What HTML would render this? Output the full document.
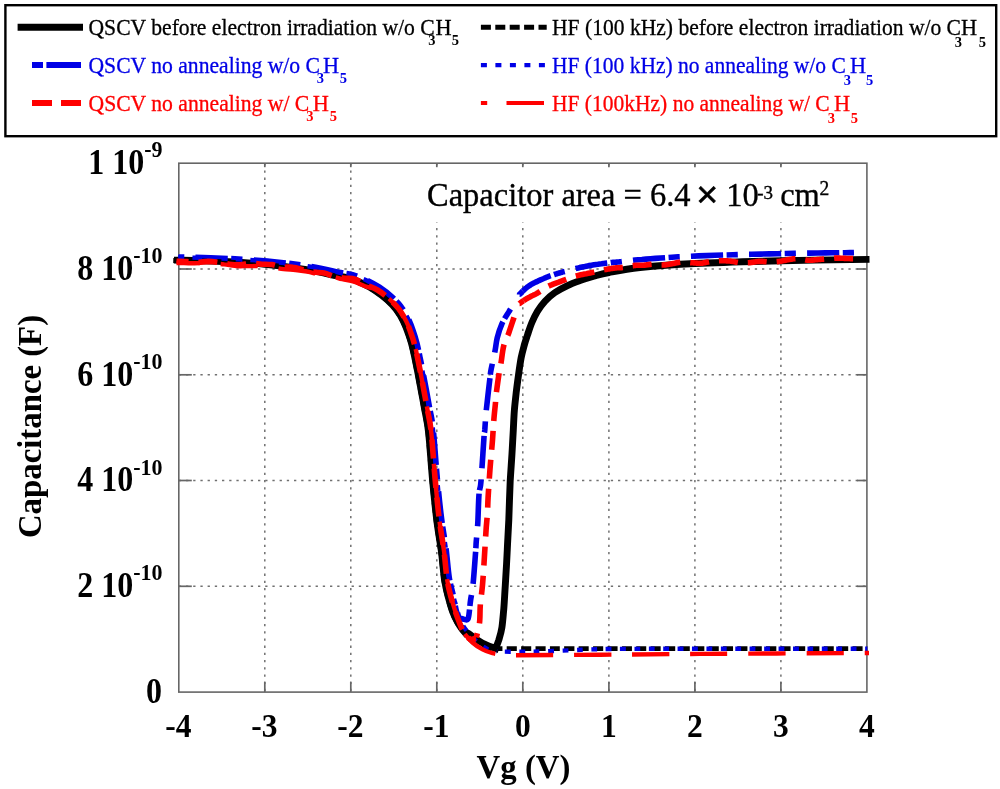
<!DOCTYPE html>
<html><head><meta charset="utf-8"><title>C-V curves</title>
<style>html,body{margin:0;padding:0;background:#fff}svg{display:block}</style></head>
<body>
<svg width="1000" height="789" viewBox="0 0 1000 789">
<line x1="264.8" y1="163.2" x2="264.8" y2="692.1" stroke="#707070" stroke-width="1.5" stroke-dasharray="2.3 4.9"/>
<line x1="350.8" y1="163.2" x2="350.8" y2="692.1" stroke="#707070" stroke-width="1.5" stroke-dasharray="2.3 4.9"/>
<line x1="436.8" y1="163.2" x2="436.8" y2="692.1" stroke="#707070" stroke-width="1.5" stroke-dasharray="2.3 4.9"/>
<line x1="522.8" y1="163.2" x2="522.8" y2="692.1" stroke="#707070" stroke-width="1.5" stroke-dasharray="2.3 4.9"/>
<line x1="608.9" y1="163.2" x2="608.9" y2="692.1" stroke="#707070" stroke-width="1.5" stroke-dasharray="2.3 4.9"/>
<line x1="694.9" y1="163.2" x2="694.9" y2="692.1" stroke="#707070" stroke-width="1.5" stroke-dasharray="2.3 4.9"/>
<line x1="780.9" y1="163.2" x2="780.9" y2="692.1" stroke="#707070" stroke-width="1.5" stroke-dasharray="2.3 4.9"/>
<line x1="178.8" y1="586.3" x2="866.9" y2="586.3" stroke="#707070" stroke-width="1.5" stroke-dasharray="2.3 4.9"/>
<line x1="178.8" y1="480.5" x2="866.9" y2="480.5" stroke="#707070" stroke-width="1.5" stroke-dasharray="2.3 4.9"/>
<line x1="178.8" y1="374.8" x2="866.9" y2="374.8" stroke="#707070" stroke-width="1.5" stroke-dasharray="2.3 4.9"/>
<line x1="178.8" y1="269.0" x2="866.9" y2="269.0" stroke="#707070" stroke-width="1.5" stroke-dasharray="2.3 4.9"/>
<rect x="418" y="167.5" width="425" height="55" fill="#fff"/>
<line x1="264.8" y1="692.1" x2="264.8" y2="682.1" stroke="#666" stroke-width="1.7"/>
<line x1="264.8" y1="163.2" x2="264.8" y2="167.2" stroke="#666" stroke-width="1.7"/>
<line x1="350.8" y1="692.1" x2="350.8" y2="682.1" stroke="#666" stroke-width="1.7"/>
<line x1="350.8" y1="163.2" x2="350.8" y2="167.2" stroke="#666" stroke-width="1.7"/>
<line x1="436.8" y1="692.1" x2="436.8" y2="682.1" stroke="#666" stroke-width="1.7"/>
<line x1="436.8" y1="163.2" x2="436.8" y2="167.2" stroke="#666" stroke-width="1.7"/>
<line x1="522.8" y1="692.1" x2="522.8" y2="682.1" stroke="#666" stroke-width="1.7"/>
<line x1="522.8" y1="163.2" x2="522.8" y2="167.2" stroke="#666" stroke-width="1.7"/>
<line x1="608.9" y1="692.1" x2="608.9" y2="682.1" stroke="#666" stroke-width="1.7"/>
<line x1="608.9" y1="163.2" x2="608.9" y2="167.2" stroke="#666" stroke-width="1.7"/>
<line x1="694.9" y1="692.1" x2="694.9" y2="682.1" stroke="#666" stroke-width="1.7"/>
<line x1="694.9" y1="163.2" x2="694.9" y2="167.2" stroke="#666" stroke-width="1.7"/>
<line x1="780.9" y1="692.1" x2="780.9" y2="682.1" stroke="#666" stroke-width="1.7"/>
<line x1="780.9" y1="163.2" x2="780.9" y2="167.2" stroke="#666" stroke-width="1.7"/>
<line x1="178.8" y1="586.3" x2="191.8" y2="586.3" stroke="#666" stroke-width="1.7"/>
<line x1="866.9" y1="586.3" x2="856.9" y2="586.3" stroke="#666" stroke-width="1.7"/>
<line x1="178.8" y1="480.5" x2="191.8" y2="480.5" stroke="#666" stroke-width="1.7"/>
<line x1="866.9" y1="480.5" x2="856.9" y2="480.5" stroke="#666" stroke-width="1.7"/>
<line x1="178.8" y1="374.8" x2="191.8" y2="374.8" stroke="#666" stroke-width="1.7"/>
<line x1="866.9" y1="374.8" x2="856.9" y2="374.8" stroke="#666" stroke-width="1.7"/>
<line x1="178.8" y1="269.0" x2="191.8" y2="269.0" stroke="#666" stroke-width="1.7"/>
<line x1="866.9" y1="269.0" x2="856.9" y2="269.0" stroke="#666" stroke-width="1.7"/>
<rect x="178.8" y="163.2" width="688.1" height="528.9" fill="none" stroke="#666" stroke-width="1.6"/>
<g stroke-linecap="butt" stroke-linejoin="round">
<path d="M173.9 260.1C181.2 260.3 202.6 260.6 217.4 261.3C232.2 262.0 248.2 262.8 262.8 264.1C277.4 265.4 292.5 267.3 304.9 269.3C317.3 271.3 330.2 274.5 337.4 275.9C344.6 277.3 343.8 276.6 348.0 277.8C352.2 279.0 357.9 281.2 362.4 283.3C366.9 285.4 370.7 287.5 374.9 290.3C379.1 293.1 383.9 296.8 387.4 299.9C390.9 303.1 393.4 305.6 396.1 309.2C398.9 312.8 401.6 317.4 403.6 321.6C405.7 325.7 407.2 329.9 408.6 334.1C410.1 338.2 411.3 342.2 412.4 346.6C413.5 350.9 414.4 355.5 415.4 360.3C416.4 365.1 416.8 367.0 418.4 375.3C420.0 383.6 423.2 400.8 424.9 410.3C426.6 419.8 427.3 420.5 428.6 432.3C429.9 444.1 431.3 466.6 432.7 481.3C434.1 496.0 435.3 508.6 436.8 520.3C438.2 532.0 440.1 541.3 441.4 551.3C442.7 561.3 443.4 572.6 444.6 580.3C445.8 588.0 447.0 592.0 448.4 597.3C449.8 602.6 451.4 608.2 452.9 612.3C454.4 616.4 455.8 619.0 457.5 622.0C459.2 625.0 460.9 627.9 463.0 630.0C465.1 632.1 467.6 632.8 470.0 634.5C472.4 636.2 474.8 638.2 477.5 640.0C480.2 641.8 483.2 643.6 486.2 645.0C489.3 646.4 494.0 647.9 495.6 648.5 L495.6 648.5C496.1 647.1 497.7 643.5 498.8 640.0C499.8 636.5 501.1 632.7 501.9 627.5C502.7 622.3 503.2 615.0 503.8 608.8C504.3 602.5 504.6 596.5 505.0 590.0C505.4 583.5 505.8 577.5 506.2 570.0C506.7 562.5 507.1 553.3 507.5 545.0C507.9 536.7 508.3 530.6 508.8 520.0C509.2 509.4 509.7 492.1 510.2 481.2C510.8 470.4 511.4 463.5 511.9 455.0C512.4 446.5 512.9 437.5 513.3 430.0C513.7 422.5 513.9 416.2 514.4 410.0C514.9 403.8 515.6 398.3 516.2 392.5C516.9 386.7 517.7 380.8 518.5 375.0C519.3 369.2 520.2 362.7 521.2 357.5C522.3 352.3 523.6 347.8 524.6 344.0C525.6 340.2 526.3 338.6 527.5 335.0C528.7 331.4 530.2 326.5 531.9 322.5C533.6 318.5 535.3 314.8 537.5 311.2C539.7 307.7 542.1 304.4 545.0 301.2C547.9 298.1 551.2 295.1 555.0 292.5C558.8 289.9 563.3 287.6 567.5 285.6C571.7 283.6 575.6 282.2 580.0 280.6C584.4 279.0 588.9 277.6 593.8 276.2C598.6 274.9 601.3 274.0 609.0 272.5C616.7 271.0 625.7 269.0 640.0 267.5C654.3 266.0 671.3 264.6 695.0 263.5C718.7 262.4 752.9 261.5 782.0 260.8C811.1 260.1 854.9 259.6 869.5 259.4" fill="none" stroke="#000" stroke-width="6.9" stroke-linejoin="miter" stroke-miterlimit="6"/>
<path d="M178.5 257.0C185.8 257.2 207.2 257.5 222.0 258.2C236.8 258.9 252.8 259.7 267.4 261.0C282.0 262.3 297.1 264.2 309.5 266.2C321.9 268.2 334.8 271.4 342.0 272.8C349.2 274.2 348.4 273.5 352.6 274.7C356.8 275.9 362.5 278.1 367.0 280.2C371.5 282.3 375.3 284.4 379.5 287.2C383.7 290.0 388.5 293.7 392.0 296.8C395.5 299.9 398.0 302.5 400.8 306.1C403.5 309.7 406.2 314.3 408.2 318.4C410.3 322.6 411.8 326.8 413.2 330.9C414.7 335.1 415.9 339.1 417.0 343.4C418.1 347.8 419.0 352.4 420.0 357.2C421.0 362.0 421.4 363.9 423.0 372.2C424.6 380.5 427.8 397.7 429.5 407.2C431.2 416.7 431.9 417.4 433.2 429.2C434.5 441.0 435.9 463.5 437.3 478.2C438.7 492.9 439.9 505.5 441.4 517.2C442.8 528.9 444.7 538.2 446.0 548.2C447.3 558.2 448.0 569.5 449.2 577.2C450.4 584.9 451.8 588.5 453.0 594.2C454.2 599.9 455.5 607.5 456.5 611.5C457.5 615.5 458.6 616.9 459.0 618.0" fill="none" stroke="#0000e6" stroke-width="5.6" stroke-dasharray="32.2 3.5 11.2 11.2" stroke-dashoffset="41.0" />
<path d="M459.0 618.0C459.8 618.2 462.5 619.1 464.0 619.3C465.5 619.5 467.1 620.7 468.0 619.0C468.9 617.3 469.2 612.2 469.6 609.0C470.0 605.8 470.0 604.2 470.6 600.0C471.2 595.8 472.3 591.8 473.1 583.8C473.9 575.8 475.1 559.0 475.6 552.0C476.1 545.0 475.9 546.8 476.2 542.0C476.6 537.2 477.3 530.9 477.8 523.0C478.2 515.1 478.5 500.7 479.0 494.4C479.5 488.1 480.1 489.3 480.6 485.0C481.1 480.7 481.3 476.8 481.9 468.8C482.5 460.8 483.5 443.5 484.0 437.0C484.5 430.5 484.4 434.3 484.8 430.0C485.1 425.7 485.4 419.8 486.2 411.0C487.1 402.2 489.2 384.5 490.0 377.5C490.8 370.5 490.4 373.4 491.2 369.0C492.1 364.6 494.0 356.2 495.0 351.0C496.0 345.8 496.1 342.5 497.2 338.0C498.3 333.5 500.0 328.1 501.9 323.8C503.8 319.4 506.9 315.0 508.8 311.9C510.6 308.8 512.3 306.1 513.0 305.0" fill="none" stroke="#0000e6" stroke-width="5.6" stroke-dasharray="32.2 3.5 11.2 11.2" stroke-dashoffset="13.0" stroke-linejoin="miter"/>
<path d="M519.5 294.5L519.6 294.4L519.6 294.3L519.7 294.3L519.8 294.2L519.9 294.1L520.0 294.0L520.1 293.9L520.2 293.7L520.3 293.6L520.4 293.5L520.6 293.4L520.7 293.2L520.8 293.1L520.9 293.0L521.1 292.8L521.2 292.7L521.3 292.5L521.5 292.4L521.6 292.2L521.8 292.1L521.9 291.9L522.1 291.8L522.2 291.6L522.4 291.4L522.5 291.3L522.7 291.1L522.7 291.1" fill="none" stroke="#0000e6" stroke-width="5.6" />
<path d="M522.7 291.1L523.4 290.5L524.0 289.9L524.7 289.3L525.3 288.7L525.9 288.2L526.6 287.7L527.2 287.2L527.8 286.7L528.5 286.2L529.2 285.7L530.1 285.2L530.9 284.6L532.0 284.0L533.1 283.4L534.4 282.8L535.8 282.1L537.3 281.4L538.9 280.6L540.5 279.9L542.1 279.2L543.8 278.5L545.3 277.8L546.8 277.2L548.2 276.6L549.5 276.1L550.7 275.7L551.9 275.3L553.1 274.9L554.3 274.5L555.5 274.1L556.7 273.8L558.0 273.4L559.3 273.0L560.7 272.6L562.2 272.2L563.8 271.7L565.4 271.3L567.1 270.8L568.7 270.4L570.4 269.9L572.1 269.5L573.7 269.1L575.2 268.7L576.7 268.3L578.2 268.0L579.6 267.6L580.9 267.3L582.2 267.0L583.6 266.7L584.9 266.5L586.3 266.2L587.7 265.9L589.2 265.6L590.8 265.4L592.5 265.1L594.2 264.8L596.1 264.5L597.9 264.3L599.8 264.0L601.6 263.8L603.4 263.5L605.1 263.3L606.7 263.1L608.2 262.9L609.6 262.8L610.8 262.6L611.9 262.5L613.0 262.4L614.1 262.3L615.3 262.2L616.5 262.1L617.8 262.0L619.2 261.9L620.8 261.7L622.3 261.5L623.7 261.4L625.1 261.2L626.5 261.0L628.2 260.7L630.1 260.5L632.4 260.3L635.0 260.0L638.2 259.7L641.9 259.5L646.0 259.1L650.5 258.8L655.4 258.4L660.6 258.0L666.1 257.6L672.0 257.2L678.2 256.8L684.7 256.5L691.5 256.2L698.6 255.9L706.5 255.6L714.9 255.3L723.8 255.0L732.9 254.8L742.2 254.5L751.5 254.3L760.7 254.1L769.6 253.9L778.0 253.7L786.0 253.5L794.0 253.4L802.1 253.2L810.1 253.1L817.9 253.0L825.5 252.9L832.5 252.8L839.0 252.8L844.9 252.7L849.9 252.6L853.9 252.6L857.0 252.5L859.2 252.5L860.7 252.5L861.6 252.5L862.1 252.5L862.3 252.5L862.4 252.5L862.5 252.5L862.8 252.5L863.0 252.5" fill="none" stroke="#0000e6" stroke-width="5.6" stroke-dasharray="32.2 3.5 11.2 11.2" stroke-dashoffset="0.0" />
<path d="M173.3 260.4C180.6 260.6 202.0 260.9 216.8 261.6C231.6 262.3 247.6 263.1 262.2 264.4C276.8 265.7 291.9 267.6 304.3 269.6C316.7 271.6 329.6 274.8 336.8 276.2C344.0 277.6 343.2 276.9 347.4 278.1C351.6 279.3 357.3 281.5 361.8 283.6C366.3 285.7 370.1 287.8 374.3 290.6C378.5 293.4 383.3 297.1 386.8 300.2C390.3 303.4 392.8 305.9 395.6 309.5C398.3 313.1 401.0 317.7 403.1 321.9C405.1 326.0 406.6 330.2 408.1 334.4C409.5 338.5 410.7 342.5 411.8 346.9C412.9 351.2 413.8 355.8 414.8 360.6C415.8 365.4 416.2 367.3 417.8 375.6C419.4 383.9 422.6 401.1 424.3 410.6C426.0 420.1 426.7 420.8 428.0 432.6C429.3 444.4 430.7 466.9 432.1 481.6C433.5 496.3 434.8 508.9 436.2 520.6C437.6 532.3 439.5 541.6 440.8 551.6C442.1 561.6 442.8 572.9 444.0 580.6C445.2 588.3 446.4 592.3 447.8 597.6C449.2 602.9 450.8 608.5 452.3 612.6C453.8 616.8 455.3 619.4 457.0 622.5C458.7 625.6 460.3 628.2 462.5 631.0C464.7 633.8 467.2 637.0 470.0 639.5C472.8 642.0 476.2 644.5 479.0 646.0C481.8 647.5 484.0 648.1 487.0 648.6C490.0 649.1 495.3 648.7 497.0 648.7" fill="none" stroke="#000" stroke-width="5" stroke-dasharray="10.1 4.3" />
<path d="M497.0 648.7C558.7 648.7 805.6 648.7 867.3 648.7" fill="none" stroke="#000" stroke-width="4.8" stroke-dasharray="10.1 4.3" stroke-dashoffset="4.6" />
<path d="M178.3 257.3C185.6 257.5 207.0 257.8 221.8 258.5C236.6 259.2 252.6 260.0 267.2 261.3C281.8 262.6 296.9 264.5 309.3 266.5C321.7 268.5 334.6 271.7 341.8 273.1C349.0 274.5 348.2 273.8 352.4 275.0C356.6 276.2 362.3 278.4 366.8 280.5C371.3 282.6 375.1 284.7 379.3 287.5C383.5 290.3 388.3 294.0 391.8 297.1C395.3 300.2 397.8 302.8 400.6 306.4C403.3 310.0 406.0 314.6 408.1 318.8C410.1 322.9 411.6 327.1 413.1 331.2C414.5 335.4 415.7 339.4 416.8 343.8C417.9 348.1 418.8 352.7 419.8 357.5C420.8 362.3 421.2 364.2 422.8 372.5C424.4 380.8 427.6 398.0 429.3 407.5C431.0 417.0 431.7 417.7 433.0 429.5C434.3 441.3 435.7 463.8 437.1 478.5C438.5 493.2 439.8 505.8 441.2 517.5C442.6 529.2 444.5 538.5 445.8 548.5C447.1 558.5 447.8 569.8 449.0 577.5C450.2 585.2 451.4 589.2 452.8 594.5C454.2 599.8 456.1 605.2 457.3 609.5C458.5 613.8 458.7 616.8 460.0 620.0C461.3 623.2 463.0 625.7 465.0 628.5C467.0 631.3 469.3 634.2 472.0 637.0C474.7 639.8 478.2 642.9 481.0 645.0C483.8 647.1 486.3 648.7 489.0 649.8C491.7 650.9 495.7 651.3 497.0 651.6" fill="none" stroke="#0000e6" stroke-width="4.4" stroke-dasharray="5.8 8.6" />
<path d="M497.0 651.6C502.5 651.6 517.8 651.9 530.0 651.7C542.2 651.5 556.7 650.8 570.0 650.3C583.3 649.8 588.3 649.2 610.0 649.0C631.7 648.8 657.1 648.8 700.0 648.8C742.9 648.8 839.4 648.8 867.3 648.8" fill="none" stroke="#0000e6" stroke-width="4.4" stroke-dasharray="5.8 8.6" stroke-dashoffset="6.4" />
<path d="M176.5 261.2C178.3 261.3 183.6 261.4 187.1 261.6C190.6 261.8 194.2 262.4 197.7 262.4C201.2 262.4 204.8 261.5 208.3 261.4C211.8 261.4 215.3 261.9 218.9 262.4C222.4 262.9 225.9 263.8 229.5 264.2C233.0 264.6 236.5 265.0 240.0 264.8C243.6 264.7 247.1 263.3 250.6 263.2C254.1 263.0 257.7 263.8 261.2 264.1C264.7 264.3 268.2 264.1 271.7 264.6C275.2 265.1 278.7 266.7 282.3 267.1C285.8 267.5 289.3 266.7 292.8 267.2C296.3 267.6 299.8 268.9 303.3 269.8C306.8 270.6 310.3 271.6 313.7 272.1C317.2 272.7 320.7 272.4 324.1 273.1C327.6 273.8 331.0 275.6 334.5 276.4C338.0 277.3 341.5 277.7 344.9 278.2C348.3 278.6 351.8 278.1 355.1 279.2C358.4 280.2 361.3 282.6 365.0 284.4C368.7 286.2 373.3 287.5 377.5 290.0C381.7 292.5 386.5 296.5 390.0 299.6C393.5 302.8 396.0 305.3 398.8 308.9C401.5 312.5 404.2 317.1 406.2 321.2C408.3 325.4 409.8 329.6 411.2 333.8C412.7 337.9 413.9 341.9 415.0 346.2C416.1 350.6 417.0 355.2 418.0 360.0C419.0 364.8 419.4 366.7 421.0 375.0C422.6 383.3 425.8 400.5 427.5 410.0C429.2 419.5 429.9 420.2 431.2 432.0C432.5 443.8 433.9 466.3 435.3 481.0C436.7 495.7 437.9 508.3 439.4 520.0C440.8 531.7 442.7 541.0 444.0 551.0C445.3 561.0 446.0 572.3 447.2 580.0C448.4 587.7 449.6 591.7 451.0 597.0C452.4 602.3 454.2 607.9 455.5 612.0C456.8 616.1 457.6 618.1 459.0 621.5C460.4 624.9 461.9 629.6 463.8 632.5C465.6 635.4 468.0 638.0 470.0 639.0C472.0 640.0 475.0 638.6 476.0 638.5" fill="none" stroke="#ff0000" stroke-width="5.6" stroke-dasharray="19 10" stroke-dashoffset="7.0" />
<path d="M476.3 637.5C476.8 635.1 478.8 628.4 479.5 623.0C480.2 617.6 479.8 611.3 480.3 605.0C480.8 598.7 481.8 593.0 482.5 585.0C483.2 577.0 483.8 566.5 484.4 557.0C485.0 547.5 485.7 535.5 486.2 528.0C486.8 520.5 487.2 517.1 487.5 512.0C487.8 506.9 487.7 504.7 488.1 497.5C488.5 490.3 489.3 478.6 490.0 469.0C490.7 459.4 491.9 448.1 492.5 440.0C493.1 431.9 493.3 426.6 493.8 420.6C494.2 414.6 495.0 408.2 495.4 403.8C495.8 399.3 495.6 398.8 496.2 393.8C496.9 388.8 498.2 378.9 499.0 373.8C499.8 368.6 500.2 367.7 501.0 363.0C501.8 358.3 502.5 350.5 503.8 345.5C505.0 340.5 507.1 337.6 508.8 333.0C510.4 328.4 512.7 321.2 513.8 318.0C514.8 314.8 515.0 314.7 515.2 314.0" fill="none" stroke="#ff0000" stroke-width="5.6" stroke-dasharray="19 10" stroke-dashoffset="14.5" />
<path d="M519.5 303.5L519.6 303.4L519.7 303.4L519.8 303.3L519.9 303.2L520.1 303.1L520.2 303.0L520.3 302.9L520.5 302.8L520.6 302.7L520.8 302.6L520.9 302.5L521.1 302.4L521.3 302.3L521.5 302.1L521.6 302.0L521.8 301.9L522.0 301.8L522.2 301.6L522.4 301.5L522.6 301.3L522.8 301.2L523.0 301.1L523.2 300.9L523.4 300.8L523.6 300.7" fill="none" stroke="#ff0000" stroke-width="5.6" />
<path d="M523.6 300.7L524.3 300.2L525.2 299.6L526.1 299.0L527.0 298.5L527.9 298.0L528.9 297.4L529.9 296.9L531.0 296.4L532.1 295.8L533.2 295.3L534.3 294.7L535.4 294.2L536.5 293.6L537.5 293.0L538.5 292.4L539.4 291.8L540.3 291.2L541.1 290.5L542.0 289.9L542.9 289.3L543.9 288.6L545.0 287.9L546.2 287.3L547.5 286.6L549.0 285.9L550.8 285.2L552.6 284.4L554.6 283.6L556.7 282.8L558.7 282.1L560.7 281.3L562.6 280.6L564.4 280.0L566.0 279.4L567.4 278.9L568.7 278.4L569.8 278.0L570.8 277.6L571.8 277.3L572.8 276.9L573.8 276.6L574.9 276.3L576.1 276.0L577.5 275.6L579.0 275.2L580.7 274.8L582.5 274.4L584.4 274.0L586.3 273.7L588.3 273.3L590.1 272.9L591.9 272.5L593.5 272.2L595.0 271.9L596.3 271.6L597.5 271.3L598.6 271.1L599.5 270.8L600.5 270.6L601.4 270.4L602.2 270.2L603.1 270.0L604.0 269.8L605.0 269.6L606.0 269.4L607.0 269.2L608.0 269.0L609.0 268.9L610.0 268.7L611.0 268.5L612.0 268.4L613.0 268.2L614.0 268.1L615.0 268.0L616.0 267.9L616.9 267.8L617.9 267.8L618.9 267.7L619.8 267.7L620.8 267.6L621.7 267.6L622.7 267.5L623.7 267.4L624.6 267.3L625.6 267.2L626.5 267.0L627.5 266.8L628.5 266.6L629.4 266.4L630.4 266.1L631.3 265.9L632.3 265.7L633.3 265.6L634.2 265.5L635.2 265.4L636.1 265.3L637.1 265.3L638.1 265.3L639.0 265.3L640.0 265.3L641.0 265.3L641.9 265.3L642.9 265.3L643.8 265.2L644.8 265.1L645.8 265.0L646.7 264.9L647.7 264.8L648.7 264.6L649.6 264.5L650.6 264.4L651.5 264.3L652.5 264.2L653.5 264.2L654.4 264.2L655.4 264.3L656.4 264.4L657.3 264.5L658.3 264.6L659.3 264.8L660.2 264.9L661.2 265.0L662.1 265.0L663.1 265.0L664.1 264.9L665.0 264.9L666.0 264.7L667.0 264.6L667.9 264.4L668.9 264.2L669.8 264.1L670.8 263.9L671.8 263.7L672.7 263.6L673.7 263.4L674.7 263.2L675.6 263.0L676.6 262.8L677.6 262.6L678.5 262.5L679.5 262.3L680.4 262.2L681.4 262.1L682.4 262.0L683.3 262.0L684.3 262.0L685.3 262.1L686.2 262.1L687.2 262.2L688.1 262.4L689.1 262.5L690.1 262.6L691.0 262.7L692.0 262.7L693.0 262.8L693.9 262.9L694.9 263.0L695.9 263.0L696.8 263.1L697.8 263.2L698.8 263.2L699.7 263.2L700.7 263.2L701.6 263.2L702.6 263.1L703.6 262.9L704.5 262.8L705.5 262.5L706.5 262.3L707.4 262.1L708.4 261.9L709.4 261.7L710.3 261.5L711.3 261.3L712.3 261.2L713.2 261.1L714.2 261.0L715.1 261.0L716.1 260.9L717.1 260.9L718.0 260.9L719.0 260.8L720.0 260.8L720.9 260.8L721.9 260.8L722.9 260.8L723.8 260.8L724.8 260.8L725.8 260.8L726.7 260.9L727.7 260.9L728.7 261.0L729.6 261.0L730.6 261.1L731.5 261.2L732.5 261.4L733.5 261.6L734.4 261.8L735.4 262.0L736.4 262.2L737.3 262.3L738.3 262.5L739.3 262.6L740.2 262.7L741.2 262.8L742.2 262.8L743.1 262.9L744.1 262.9L745.1 262.9L746.0 262.8L747.0 262.8L747.9 262.8L748.9 262.7L749.9 262.6L750.8 262.5L751.8 262.4L752.8 262.3L753.7 262.1L754.7 262.0L755.7 261.8L756.6 261.6L757.6 261.5L758.6 261.4L759.5 261.4L760.5 261.3L761.5 261.4L762.4 261.4L763.4 261.5L764.3 261.6L765.3 261.7L766.3 261.7L767.2 261.8L768.2 261.9L769.2 261.9L770.1 261.9L771.1 261.9L772.1 261.9L773.0 261.9L774.0 261.8L775.0 261.8L775.9 261.7L776.9 261.6L777.9 261.6L778.8 261.5L779.8 261.3L780.7 261.2L781.7 261.0L782.7 260.8L783.6 260.6L784.6 260.4L785.6 260.2L786.5 260.0L787.5 259.8L788.5 259.6L789.4 259.5L790.4 259.3L791.4 259.2L792.3 259.0L793.3 258.8L794.3 258.7L795.2 258.6L796.2 258.5L797.1 258.5L798.1 258.5L799.1 258.5L800.0 258.7L801.0 258.8L802.0 259.0L802.9 259.3L803.9 259.5L804.9 259.7L805.8 259.9L806.8 260.1L807.8 260.2L808.7 260.2L809.7 260.2L810.7 260.2L811.6 260.1L812.6 260.1L813.6 260.0L814.5 259.9L815.5 259.8L816.4 259.7L817.4 259.6L818.4 259.5L819.3 259.5L820.3 259.4L821.3 259.3L822.2 259.2L823.2 259.1L824.2 259.0L825.1 258.9L826.1 258.8L827.1 258.7L828.0 258.7L829.0 258.6L830.0 258.5L830.9 258.4L831.9 258.3L832.8 258.3L833.8 258.2L834.8 258.1L835.7 258.1L836.7 258.1L837.7 258.1L838.6 258.1L839.6 258.1L840.6 258.2L841.5 258.2L842.5 258.3L843.5 258.3L844.4 258.4L845.4 258.4L846.4 258.5L847.4 258.5L848.4 258.5L849.6 258.5L850.7 258.6L851.8 258.6L852.8 258.6L853.8 258.6L854.7 258.6L855.4 258.6L856.0 258.6L856.0 258.6" fill="none" stroke="#ff0000" stroke-width="5.6" stroke-dasharray="19 10" stroke-dashoffset="0.0" />
<path d="M176.5 263.0C178.5 263.0 184.4 263.2 188.4 263.3C192.4 263.3 196.4 263.1 200.3 263.1C204.3 263.1 208.3 263.3 212.3 263.5C216.2 263.7 220.2 263.9 224.2 264.4C228.1 264.8 232.1 265.8 236.1 266.1C240.0 266.4 244.0 266.1 248.0 266.1C251.9 266.1 255.9 266.0 259.9 266.1C263.8 266.3 267.8 266.8 271.7 267.2C275.7 267.7 279.6 268.7 283.6 269.1C287.5 269.6 291.5 269.6 295.4 270.0C299.3 270.4 303.3 270.7 307.2 271.5C311.2 272.2 315.0 273.8 318.9 274.6C322.8 275.3 326.7 275.1 330.6 275.9C334.5 276.7 338.4 278.2 342.3 279.2C346.2 280.1 350.1 280.4 353.9 281.6C357.6 282.8 361.1 284.8 365.0 286.2C368.9 287.6 373.3 287.8 377.5 290.0C381.7 292.2 386.5 296.5 390.0 299.6C393.5 302.8 396.0 305.3 398.8 308.9C401.5 312.5 404.2 317.1 406.2 321.2C408.3 325.4 409.8 329.6 411.2 333.8C412.7 337.9 413.9 341.9 415.0 346.2C416.1 350.6 417.0 355.2 418.0 360.0C419.0 364.8 419.4 366.7 421.0 375.0C422.6 383.3 425.8 400.5 427.5 410.0C429.2 419.5 429.9 420.2 431.2 432.0C432.5 443.8 433.9 466.3 435.3 481.0C436.7 495.7 437.9 508.3 439.4 520.0C440.8 531.7 442.7 541.0 444.0 551.0C445.3 561.0 446.0 572.3 447.2 580.0C448.4 587.7 449.6 591.7 451.0 597.0C452.4 602.3 454.2 607.8 455.5 612.0C456.8 616.2 457.4 619.1 458.8 622.5C460.1 625.9 461.5 629.2 463.8 632.5C466.0 635.8 469.4 639.7 472.5 642.5C475.6 645.3 479.2 647.6 482.5 649.4C485.8 651.2 489.1 652.3 492.5 653.2C495.9 654.1 499.1 654.4 503.0 654.8C506.9 655.1 513.8 655.2 516.0 655.3" fill="none" stroke="#ff0000" stroke-width="4.4" stroke-dasharray="37.2 20.9" stroke-dashoffset="13.9" />
<path d="M516.0 655.3C530.0 655.2 569.3 654.9 600.0 654.7C630.7 654.5 655.2 654.2 700.0 653.9C744.8 653.6 840.8 653.1 869.0 653.0" fill="none" stroke="#ff0000" stroke-width="4.4" stroke-dasharray="37.2 20.9" stroke-dashoffset="0.0" />
</g>
<text transform="translate(178.3 737.2) scale(1 1.1)" font-size="31.5" text-anchor="middle" font-family="'Liberation Serif',serif" font-weight="bold">-4</text>
<text transform="translate(264.3 737.2) scale(1 1.1)" font-size="31.5" text-anchor="middle" font-family="'Liberation Serif',serif" font-weight="bold">-3</text>
<text transform="translate(350.3 737.2) scale(1 1.1)" font-size="31.5" text-anchor="middle" font-family="'Liberation Serif',serif" font-weight="bold">-2</text>
<text transform="translate(436.3 737.2) scale(1 1.1)" font-size="31.5" text-anchor="middle" font-family="'Liberation Serif',serif" font-weight="bold">-1</text>
<text transform="translate(522.8 737.2) scale(1 1.1)" font-size="31.5" text-anchor="middle" font-family="'Liberation Serif',serif" font-weight="bold">0</text>
<text transform="translate(608.9 737.2) scale(1 1.1)" font-size="31.5" text-anchor="middle" font-family="'Liberation Serif',serif" font-weight="bold">1</text>
<text transform="translate(694.9 737.2) scale(1 1.1)" font-size="31.5" text-anchor="middle" font-family="'Liberation Serif',serif" font-weight="bold">2</text>
<text transform="translate(780.9 737.2) scale(1 1.1)" font-size="31.5" text-anchor="middle" font-family="'Liberation Serif',serif" font-weight="bold">3</text>
<text transform="translate(866.9 737.2) scale(1 1.1)" font-size="31.5" text-anchor="middle" font-family="'Liberation Serif',serif" font-weight="bold">4</text>
<text transform="translate(162 702.9) scale(1 1.1)" font-size="32" text-anchor="end" font-family="'Liberation Serif',serif" font-weight="bold">0</text>
<text transform="translate(133.2 597.1) scale(1 1.1)" font-size="32" text-anchor="end" font-family="'Liberation Serif',serif" font-weight="bold" xml:space="preserve">2 10</text>
<text transform="translate(133.2 580.3) scale(1 1.085)" font-size="22" font-family="'Liberation Serif',serif" font-weight="bold">-10</text>
<text transform="translate(133.2 491.3) scale(1 1.1)" font-size="32" text-anchor="end" font-family="'Liberation Serif',serif" font-weight="bold" xml:space="preserve">4 10</text>
<text transform="translate(133.2 474.5) scale(1 1.085)" font-size="22" font-family="'Liberation Serif',serif" font-weight="bold">-10</text>
<text transform="translate(133.2 385.6) scale(1 1.1)" font-size="32" text-anchor="end" font-family="'Liberation Serif',serif" font-weight="bold" xml:space="preserve">6 10</text>
<text transform="translate(133.2 368.8) scale(1 1.085)" font-size="22" font-family="'Liberation Serif',serif" font-weight="bold">-10</text>
<text transform="translate(133.2 279.8) scale(1 1.1)" font-size="32" text-anchor="end" font-family="'Liberation Serif',serif" font-weight="bold" xml:space="preserve">8 10</text>
<text transform="translate(133.2 263.0) scale(1 1.085)" font-size="22" font-family="'Liberation Serif',serif" font-weight="bold">-10</text>
<text transform="translate(144.2 174.0) scale(1 1.1)" font-size="32" text-anchor="end" font-family="'Liberation Serif',serif" font-weight="bold" xml:space="preserve">1 10</text>
<text transform="translate(144.2 157.2) scale(1 1.085)" font-size="22" font-family="'Liberation Serif',serif" font-weight="bold">-9</text>
<text x="523.5" y="778" font-size="32.8" text-anchor="middle" font-family="'Liberation Serif',serif" font-weight="bold">Vg (V)</text>
<text transform="translate(41 426.5) rotate(-90)" font-size="32.8" text-anchor="middle" font-family="'Liberation Serif',serif" font-weight="bold">Capacitance (F)</text>
<text transform="translate(427.0 205.9) scale(1 1.060)" font-size="32.5" font-family="'Liberation Serif',serif" stroke="#000" stroke-width="0.35"  xml:space="preserve">Capacitor area = 6.4</text>
<text x="707.2" y="207.1" font-size="37.5" text-anchor="middle" stroke="#000" stroke-width="0.5" font-family="'Liberation Sans',sans-serif">×</text>
<text transform="translate(726.3 205.9) scale(1 1.060)" font-size="32.5" font-family="'Liberation Serif',serif" stroke="#000" stroke-width="0.35"  xml:space="preserve">10</text>
<text transform="translate(757.3 199.0) scale(1 1.040)" font-size="19" font-family="'Liberation Serif',serif" stroke="#000" stroke-width="0.35"  xml:space="preserve">-3</text>
<text transform="translate(780.2 205.9) scale(1 1.060)" font-size="32.5" font-family="'Liberation Serif',serif" stroke="#000" stroke-width="0.35"  xml:space="preserve">cm</text>
<text transform="translate(819.6 195.3) scale(1 1.040)" font-size="19.5" font-family="'Liberation Serif',serif" stroke="#000" stroke-width="0.35"  xml:space="preserve">2</text>
<rect x="5.4" y="5.2" width="990.8" height="131" fill="#fff" stroke="#000" stroke-width="2.4"/>
<line x1="17.6" y1="27.2" x2="83" y2="27.2" stroke="#000" stroke-width="7"/>
<path d="M32 65H43M46.4 65H81" stroke="#0000e6" stroke-width="5.8" fill="none"/>
<path d="M32 103H52M61 103H81" stroke="#ff0000" stroke-width="5.8" fill="none"/>
<line x1="480.9" y1="27.3" x2="546.7" y2="27.3" stroke="#000" stroke-width="5" stroke-dasharray="10 4.4"/>
<line x1="480.9" y1="65.2" x2="546" y2="65.2" stroke="#0000e6" stroke-width="4.2" stroke-dasharray="6 8.5"/>
<path d="M480.9 103H487.2M506.5 103H544" stroke="#ff0000" stroke-width="4.2" fill="none"/>
<text x="88.5" y="34.5" font-size="22.3" fill="#000" stroke="#000" stroke-width="0.3" font-family="'Liberation Serif',serif" textLength="346.2" lengthAdjust="spacingAndGlyphs">QSCV before electron irradiation w/o C</text><text x="435.5" y="34.5" font-size="22.3" fill="#000" stroke="#000" stroke-width="0.3" font-family="'Liberation Serif',serif">H</text><text x="428.3" y="45.0" font-size="14.5" font-weight="bold" fill="#000" font-family="'Liberation Serif',serif">3</text><text x="451.7" y="45.0" font-size="14.5" font-weight="bold" fill="#000" font-family="'Liberation Serif',serif">5</text>
<text x="88.5" y="72.5" font-size="22.3" fill="#0000e6" stroke="#0000e6" stroke-width="0.3" font-family="'Liberation Serif',serif" textLength="231.5" lengthAdjust="spacingAndGlyphs">QSCV no annealing w/o C</text><text x="323.1" y="72.5" font-size="22.3" fill="#0000e6" stroke="#0000e6" stroke-width="0.3" font-family="'Liberation Serif',serif">H</text><text x="316.8" y="83.0" font-size="14.5" font-weight="bold" fill="#0000e6" font-family="'Liberation Serif',serif">3</text><text x="339.7" y="83.0" font-size="14.5" font-weight="bold" fill="#0000e6" font-family="'Liberation Serif',serif">5</text>
<text x="88.5" y="110.5" font-size="22.3" fill="#ff0000" stroke="#ff0000" stroke-width="0.3" font-family="'Liberation Serif',serif" textLength="220.8" lengthAdjust="spacingAndGlyphs">QSCV no annealing w/ C</text><text x="312.7" y="110.5" font-size="22.3" fill="#ff0000" stroke="#ff0000" stroke-width="0.3" font-family="'Liberation Serif',serif">H</text><text x="306.3" y="121.0" font-size="14.5" font-weight="bold" fill="#ff0000" font-family="'Liberation Serif',serif">3</text><text x="329.8" y="121.0" font-size="14.5" font-weight="bold" fill="#ff0000" font-family="'Liberation Serif',serif">5</text>
<text x="552.0" y="34.5" font-size="22.3" fill="#000" stroke="#000" stroke-width="0.3" font-family="'Liberation Serif',serif" textLength="409.0" lengthAdjust="spacingAndGlyphs">HF (100 kHz) before electron irradiation w/o C</text><text x="961.1" y="34.5" font-size="22.3" fill="#000" stroke="#000" stroke-width="0.3" font-family="'Liberation Serif',serif">H</text><text x="954.7" y="46.5" font-size="14.5" font-weight="bold" fill="#000" font-family="'Liberation Serif',serif">3</text><text x="978.7" y="46.5" font-size="14.5" font-weight="bold" fill="#000" font-family="'Liberation Serif',serif">5</text>
<text x="552.0" y="72.5" font-size="22.3" fill="#0000e6" stroke="#0000e6" stroke-width="0.3" font-family="'Liberation Serif',serif" textLength="293.8" lengthAdjust="spacingAndGlyphs">HF (100 kHz) no annealing w/o C</text><text x="849.9" y="72.5" font-size="22.3" fill="#0000e6" stroke="#0000e6" stroke-width="0.3" font-family="'Liberation Serif',serif">H</text><text x="843.7" y="84.5" font-size="14.5" font-weight="bold" fill="#0000e6" font-family="'Liberation Serif',serif">3</text><text x="866.0" y="84.5" font-size="14.5" font-weight="bold" fill="#0000e6" font-family="'Liberation Serif',serif">5</text>
<text x="552.0" y="110.5" font-size="22.3" fill="#ff0000" stroke="#ff0000" stroke-width="0.3" font-family="'Liberation Serif',serif" textLength="277.7" lengthAdjust="spacingAndGlyphs">HF (100kHz) no annealing w/ C</text><text x="833.9" y="110.5" font-size="22.3" fill="#ff0000" stroke="#ff0000" stroke-width="0.3" font-family="'Liberation Serif',serif">H</text><text x="827.7" y="122.5" font-size="14.5" font-weight="bold" fill="#ff0000" font-family="'Liberation Serif',serif">3</text><text x="850.8" y="122.5" font-size="14.5" font-weight="bold" fill="#ff0000" font-family="'Liberation Serif',serif">5</text>
</svg>
</body></html>
